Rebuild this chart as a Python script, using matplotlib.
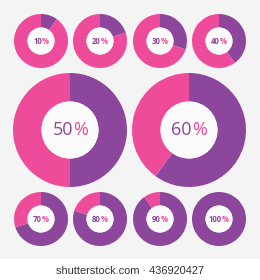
import matplotlib
matplotlib.use("Agg")
import matplotlib.pyplot as plt
from matplotlib.patches import Rectangle, Circle

small_top = [10, 20, 30, 40]
large = [50, 60]
small_bottom = [70, 80, 90, 100]
watermark = "shutterstock.com \u00b7 436920427"

PURPLE = "#8c479c"
PINK = "#ee4b9a"
BG = "#f4f4f4"
INNER = "#fbfbfb"

W, H = 260, 280
fig = plt.figure(figsize=(W / 100, H / 100), dpi=100)
ax = fig.add_axes([0, 0, 1, 1])
ax.set_xlim(0, W)
ax.set_ylim(0, H)
ax.set_aspect("equal")
ax.axis("off")
fig.patch.set_facecolor("white")
ax.add_patch(Rectangle((0, 21), W, H - 21, facecolor=BG, edgecolor="none", zorder=0))

texts = []

def donut(p, cx, cy, r, rin, fs, weight):
    ax.pie([p, 100 - p], colors=[PURPLE, PINK], startangle=90, counterclock=False,
           center=(cx, cy), radius=r, wedgeprops=dict(width=r - rin, linewidth=0),
           frame=True)
    ax.add_patch(Circle((cx, cy), rin, facecolor=INNER, edgecolor="none", zorder=3))
    texts.append((str(p), cx, cy, fs, weight))

xs = [41, 100, 160, 219]
for p, x in zip(small_top, xs):
    donut(p, x, H - 41, 27, 13.5, 5.6, "bold")
for p, x in zip(large, [70, 189]):
    donut(p, x, H - 130, 57, 28.5, 13, "normal")
for p, x in zip(small_bottom, xs):
    donut(p, x, H - 219, 27, 13.5, 5.6, "bold")

ax.set_xlim(0, W)
ax.set_ylim(0, H)
ax.axis("off")

fam = ["Open Sans", "DejaVu Sans"]
fig.canvas.draw()
r = fig.canvas.get_renderer()
for s, cx, cy, fs, wt in texts:
    full = ax.text(cx, cy, s + "%", ha="center", va="center", fontsize=fs,
                   fontweight=wt, family=fam, zorder=4)
    bb = full.get_window_extent(r)
    inv = ax.transData.inverted()
    x0, _ = inv.transform((bb.x0, bb.y0))
    x1, _ = inv.transform((bb.x1, bb.y0))
    full.remove()
    ax.text(x0, cy, s, ha="left", va="center", fontsize=fs, fontweight=wt,
            family=fam, color=PURPLE, zorder=4)
    ax.text(x1, cy, "%", ha="right", va="center", fontsize=fs, fontweight=wt,
            family=fam, color=PINK, zorder=4)

ax.text(W / 2, 9, watermark, ha="center", va="center", fontsize=7.9,
        family=["Liberation Sans", "DejaVu Sans"], color="#333333")

fig.savefig("out.png", dpi=100, facecolor="white")
